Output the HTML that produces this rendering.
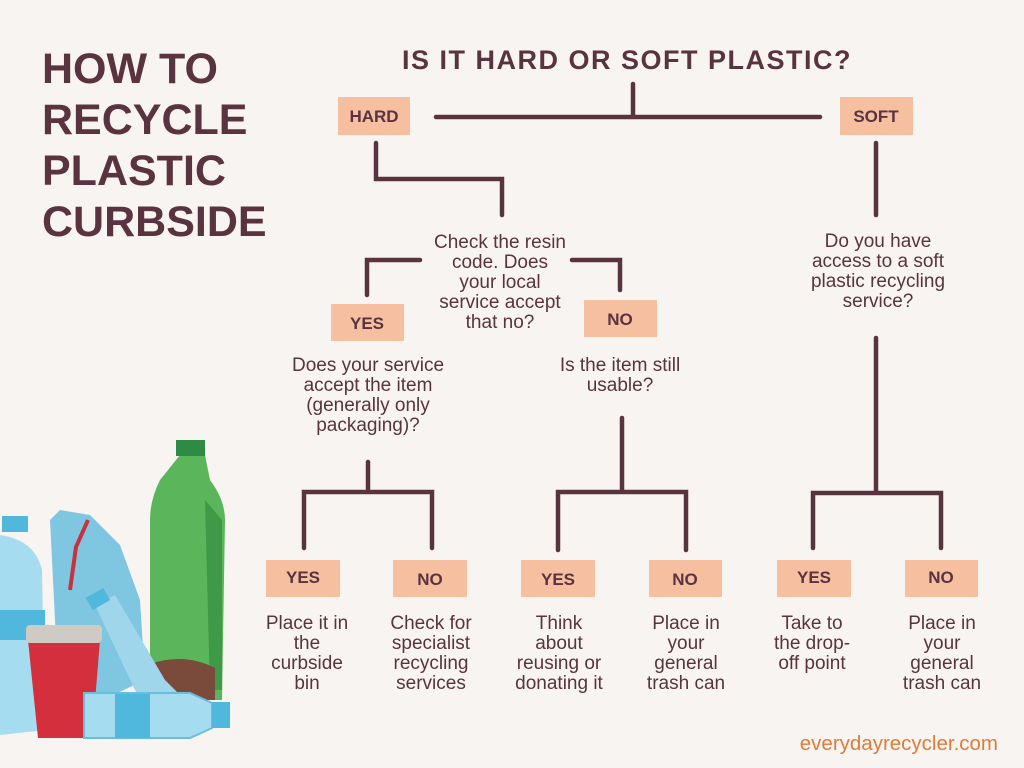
<!DOCTYPE html>
<html><head><meta charset="utf-8"><style>
html,body{margin:0;padding:0;background:#f8f4f1;}
svg{display:block;}
text{font-family:"Liberation Sans",sans-serif;fill:#5a3340;}
.t{font-size:19px;text-anchor:middle;}
.b{font-size:17px;font-weight:bold;text-anchor:middle;}
.l{stroke:#5a3340;stroke-width:4.5;fill:none;stroke-linecap:round;stroke-linejoin:miter;}
.box{fill:#f5bfa0;}
</style></head><body>
<svg width="1024" height="768" viewBox="0 0 1024 768">
<rect width="1024" height="768" fill="#f8f4f1"/>
<g style="font-size:43px;font-weight:bold">
<text x="42" y="83">HOW TO</text>
<text x="42" y="134">RECYCLE</text>
<text x="42" y="185">PLASTIC</text>
<text x="42" y="236">CURBSIDE</text>
</g>
<text x="627" y="69" style="font-size:27px;font-weight:bold;text-anchor:middle;letter-spacing:1.5px">IS IT HARD OR SOFT PLASTIC?</text>
<!-- lines -->
<path class="l" d="M633 84V115M436 117H820"/>
<path class="l" d="M376 143V179H502V215"/>
<path class="l" d="M367 295V260H420M572 260H620V290"/>
<path class="l" d="M876 143V215"/>
<path class="l" d="M368 462V492M304 548V492H432V548"/>
<path class="l" d="M622 418V492M558 550V492H686V550"/>
<path class="l" d="M876 338V493M813 548V493H941V548"/>
<!-- boxes -->
<rect class="box" x="338" y="97" width="72" height="38"/><text class="b" x="374" y="122">HARD</text>
<rect class="box" x="840" y="97" width="73" height="38"/><text class="b" x="876" y="122">SOFT</text>
<rect class="box" x="331" y="304" width="73" height="37"/><text class="b" x="367" y="329">YES</text>
<rect class="box" x="584" y="300" width="73" height="37"/><text class="b" x="620" y="325">NO</text>
<rect class="box" x="266" y="560" width="74" height="37"/><text class="b" x="303" y="583">YES</text>
<rect class="box" x="393" y="560" width="74" height="37"/><text class="b" x="430" y="585">NO</text>
<rect class="box" x="521" y="560" width="74" height="37"/><text class="b" x="558" y="585">YES</text>
<rect class="box" x="649" y="560" width="73" height="37"/><text class="b" x="685" y="585">NO</text>
<rect class="box" x="777" y="560" width="74" height="37"/><text class="b" x="814" y="583">YES</text>
<rect class="box" x="905" y="560" width="73" height="37"/><text class="b" x="941" y="583">NO</text>
<!-- texts -->
<g class="t">
<text x="500" y="248">Check the resin</text><text x="500" y="268">code. Does</text><text x="500" y="288">your local</text><text x="500" y="308">service accept</text><text x="500" y="328">that no?</text>
<text x="878" y="247">Do you have</text><text x="878" y="267">access to a soft</text><text x="878" y="287">plastic recycling</text><text x="878" y="307">service?</text>
<text x="368" y="371">Does your service</text><text x="368" y="391">accept the item</text><text x="368" y="411">(generally only</text><text x="368" y="431">packaging)?</text>
<text x="620" y="371">Is the item still</text><text x="620" y="391">usable?</text>
<text x="307" y="629">Place it in</text><text x="307" y="649">the</text><text x="307" y="669">curbside</text><text x="307" y="689">bin</text>
<text x="431" y="629">Check for</text><text x="431" y="649">specialist</text><text x="431" y="669">recycling</text><text x="431" y="689">services</text>
<text x="559" y="629">Think</text><text x="559" y="649">about</text><text x="559" y="669">reusing or</text><text x="559" y="689">donating it</text>
<text x="686" y="629">Place in</text><text x="686" y="649">your</text><text x="686" y="669">general</text><text x="686" y="689">trash can</text>
<text x="812" y="629">Take to</text><text x="812" y="649">the drop-</text><text x="812" y="669">off point</text>
<text x="942" y="629">Place in</text><text x="942" y="649">your</text><text x="942" y="669">general</text><text x="942" y="689">trash can</text>
</g>
<text x="998" y="750" style="font-size:20.5px;fill:#e07b39;text-anchor:end">everydayrecycler.com</text>
<!-- bottles illustration -->
<g>
<path d="M50 520 L60 510 L90 515 L120 545 L140 600 L145 680 L60 720 Z" fill="#7fc6e0"/>
<rect x="2" y="516" width="26" height="16" fill="#4fb8dc"/>
<path d="M0 535 Q35 540 42 570 L45 730 L0 735 Z" fill="#a6dcef"/>
<rect x="0" y="610" width="45" height="30" fill="#4fb8dc"/>
<path d="M160 480 Q150 500 150 520 L150 700 L222 700 L225 520 Q225 500 210 480 L205 455 L180 455 Z" fill="#5bb55a"/>
<rect x="176" y="440" width="29" height="16" fill="#2f8a45"/>
<path d="M205 500 L222 520 L222 690 L210 690 Z" fill="#3f9a48"/>
<path d="M140 668 Q180 650 215 668 L215 700 L140 700 Z" fill="#7a4a3a"/>
<path d="M70 590 L76 547 L88 520" stroke="#c8323e" stroke-width="4" fill="none"/>
<path d="M28 640 L100 640 L92 738 L38 738 Z" fill="#d42f3d"/>
<rect x="26" y="625" width="76" height="18" rx="4" fill="#cfcac4"/>
<path d="M95 605 L115 595 L165 680 L185 700 L150 712 L135 690 Z" fill="#9fd6ec"/>
<rect x="88" y="592" width="20" height="14" fill="#4fb8dc" transform="rotate(-30 98 599)"/>
<path d="M84 693 L190 693 L212 703 L212 728 L190 738 L84 738 Z" fill="#a6dcef" stroke="#6cbcdc" stroke-width="2"/>
<rect x="115" y="694" width="35" height="44" fill="#4fb8dc"/>
<rect x="212" y="702" width="18" height="26" fill="#4fb8dc"/>
</g>
</svg>
</body></html>
